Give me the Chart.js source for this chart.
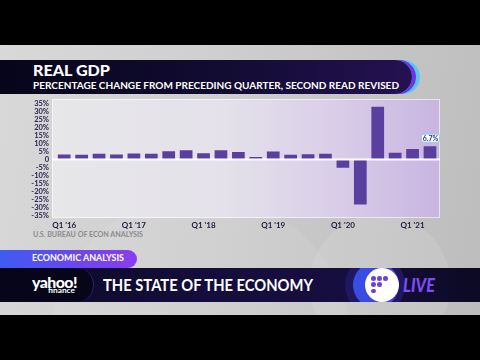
<!DOCTYPE html>
<html>
<head>
<meta charset="utf-8">
<script src="https://cdn.jsdelivr.net/npm/chart.js@4.4.1/dist/chart.umd.min.js"></script>
<style>
  html,body{margin:0;padding:0;background:#000;}
  #stage{position:relative;width:480px;height:360px;overflow:hidden;background:#000;font-family:"Lato","Open Sans",sans-serif;}
  .abs{position:absolute;white-space:nowrap;line-height:1;}
  #bg{left:0;top:45px;width:480px;height:270px;
      background:
        radial-gradient(circle at 380px 240px, rgba(255,255,255,0.10) 0 70px, rgba(255,255,255,0) 71px),
        radial-gradient(circle at 200px 300px, rgba(255,255,255,0.07) 0 150px, rgba(255,255,255,0) 151px),
        linear-gradient(100deg,#d8d8d8 0%,#cfcfcf 40%,#c4c4c4 75%,#bdbdbd 100%);}
  #titleBar{left:0;top:60px;width:412px;height:34px;border-radius:0 17px 17px 0;
      background:linear-gradient(90deg,#07051a 0%,#120c33 55%,#241152 100%);
      box-shadow:4px 0 0 #6b35e8, 8px 0 0 #56c8f2;}
  #canvasWrap{left:0;top:0;width:480px;height:360px;}
  .fit{transform-origin:0 0;}
  #pill{left:0;top:250px;width:137px;height:18px;border-radius:0 9px 9px 0;
      background:linear-gradient(90deg,#3d5cf2 0%,#6a47f0 55%,#8c3cf0 100%);}
  #banner{left:0;top:268px;width:480px;height:34px;overflow:hidden;
      background:linear-gradient(90deg,#0c0928 0%,#150d3c 45%,#170e40 70%,#0c0a24 100%);}
  #yseg{left:0;top:0;width:93px;height:34px;border-radius:0 17px 17px 0;background:#06051a;border-right:1px solid #2e2470;}
  .circ{position:absolute;border-radius:50%;}
  .dot{position:absolute;width:4.6px;height:4.6px;border-radius:50%;background:#6b42d8;}
</style>
</head>
<body>
<div id="stage">
  <div id="bg" class="abs"></div>
  <div id="titleBar" class="abs"></div>
  <div class="abs fit" data-w="77" style="left:33px;top:63px;font-size:15.3px;font-weight:900;color:#fff;">REAL GDP</div>
  <div class="abs fit" data-w="366" style="left:33px;top:80px;font-size:10.2px;font-weight:700;color:#fff;">PERCENTAGE CHANGE FROM PRECEDING QUARTER, SECOND READ REVISED</div>
  <div class="abs fit" data-w="110" style="left:33px;top:230.6px;font-size:7px;font-weight:700;color:#8b8b90;">U.S. BUREAU OF ECON ANALYSIS</div>

  <div id="pill" class="abs"></div>
  <div class="abs fit" data-w="92" style="left:32px;top:253.4px;font-size:9.7px;font-weight:700;color:#fff;">ECONOMIC ANALYSIS</div>

  <div id="banner" class="abs">
    <div id="yseg" class="abs"></div>
    <div class="circ" style="left:345px;top:-13px;width:60px;height:60px;background:#1f1860;"></div>
    <div class="circ" style="left:353px;top:-6px;width:46px;height:46px;background:linear-gradient(90deg,#3550e6,#4a3ad8);"></div>
    <div class="circ" style="left:365px;top:0px;width:34px;height:34px;background:#fff;"></div>
    <div class="dot" style="left:371px;top:8px;"></div>
    <div class="dot" style="left:377px;top:8px;"></div>
    <div class="dot" style="left:383px;top:8px;"></div>
    <div class="dot" style="left:371px;top:14px;"></div>
    <div class="dot" style="left:377px;top:14px;"></div>
    <div class="dot" style="left:371px;top:20.5px;"></div>
  </div>
  <div class="abs fit" data-w="45" style="left:31.5px;top:276px;font-size:14.5px;font-weight:900;color:#fff;letter-spacing:-0.5px;">yahoo!</div>
  <div class="abs fit" data-w="27" style="left:48px;top:287px;font-size:7.5px;font-weight:700;color:#fff;">finance</div>
  <div class="abs fit" data-w="210" style="left:103px;top:276px;font-size:17.5px;font-weight:700;color:#fff;">THE STATE OF THE ECONOMY</div>
  <div class="abs fit" data-w="32" style="left:403px;top:276px;font-size:18px;font-weight:900;font-style:italic;color:#7c4cf4;">LIVE</div>

  <div id="canvasWrap" class="abs"><canvas id="c" width="480" height="360"></canvas></div>
</div>
<script>
// ---- data ----
const quarters = ["Q1 '16","Q2 '16","Q3 '16","Q4 '16","Q1 '17","Q2 '17","Q3 '17","Q4 '17",
                  "Q1 '18","Q2 '18","Q3 '18","Q4 '18","Q1 '19","Q2 '19","Q3 '19","Q4 '19",
                  "Q1 '20","Q2 '20","Q3 '20","Q4 '20","Q1 '21","Q2 '21"];
const gdpChange = [3.1, 2.9, 3.5, 3.1, 3.7, 3.5, 5.1, 5.7, 3.9, 5.7, 4.6, 1.6,
                   5.0, 3.0, 3.3, 3.5, -5.2, -28.2, 33.0, 4.2, 6.6, 8.3];
const yTicks = [35, 30, 25, 20, 15, 10, 5, 0, -5, -10, -15, -20, -25, -30, -35];
const xTickEvery = 4;
const latestLabel = "6.7%";

// fit text widths
document.querySelectorAll('.fit').forEach(el => {
  const target = parseFloat(el.dataset.w);
  const w = el.getBoundingClientRect().width;
  if (w > 0) el.style.transform = 'scaleX(' + (target / w) + ')';
});

const panelPlugin = {
  id: 'panel',
  beforeDraw(chart) {
    const {ctx, chartArea: a} = chart;
    const L = a.left - 3.5, R = a.right + 1.3;
    const g = ctx.createLinearGradient(L, 0, R, 0);
    g.addColorStop(0, '#e7e7e9');
    g.addColorStop(0.45, '#e4e1ea');
    g.addColorStop(0.75, '#d8cce8');
    g.addColorStop(1, '#c8b5e0');
    ctx.save();
    ctx.fillStyle = g;
    ctx.fillRect(L, a.top, R - L, a.bottom - a.top);
    ctx.strokeStyle = 'rgba(255,255,255,0.6)';
    ctx.lineWidth = 1;
    ctx.strokeRect(L + 0.5, a.top + 0.5, R - L - 1, a.bottom - a.top - 1);
    ctx.restore();
  },
  afterDatasetsDraw(chart) {
    const {ctx, chartArea: a} = chart;
    const y0 = chart.scales.y.getPixelForValue(0);
    ctx.save();
    ctx.fillStyle = '#ffffff';
    ctx.fillRect(a.left - 3.5, y0 - 1, a.right - a.left + 4.8, 2);
    // latest value label
    const meta = chart.getDatasetMeta(0);
    const bar = meta.data[meta.data.length - 1];
    const bw = 18, bh = 8;
    const bx = bar.x - bw / 2 + 0.5, by = bar.y - 4 - bh;
    ctx.beginPath();
    ctx.roundRect(bx, by, bw, bh, 2);
    ctx.fillStyle = '#ffffff';
    ctx.fill();
    ctx.strokeStyle = '#7fd3f2';
    ctx.lineWidth = 1;
    ctx.stroke();
    ctx.fillStyle = '#3a2f7a';
    ctx.font = 'bold 7px Lato, sans-serif';
    ctx.textAlign = 'center';
    ctx.textBaseline = 'middle';
    ctx.fillText(latestLabel, bx + bw / 2, by + bh / 2 + 0.5);
    ctx.restore();
  }
};

new Chart(document.getElementById('c'), {
  type: 'bar',
  data: {
    labels: quarters,
    datasets: [{
      data: gdpChange,
      backgroundColor: '#5a3f9f',
      borderWidth: 0,
      barPercentage: 0.73,
      categoryPercentage: 1
    }]
  },
  options: {
    responsive: false,
    devicePixelRatio: 1,
    animation: false,
    layout: {padding: {left: 25.5, right: 41.3, top: 99, bottom: 130}},
    plugins: {legend: {display: false}, tooltip: {enabled: false}},
    scales: {
      x: {
        grid: {display: false, drawTicks: false},
        border: {display: false},
        afterFit: s => { s.height = 12; },
        ticks: {
          autoSkip: false, maxRotation: 0, minRotation: 0, padding: 3,
          color: '#1f1a3d',
          font: {family: 'Lato', size: 8, weight: 'bold'},
          callback: (v, i) => (i % xTickEvery === 0 ? quarters[i] : '')
        }
      },
      y: {
        min: -36.6, max: 37.8,
        afterFit: s => { s.width = 30; },
        afterBuildTicks: s => { s.ticks = yTicks.map(v => ({value: v})); },
        grid: {display: false, drawTicks: false},
        border: {display: false},
        ticks: {
          autoSkip: false,
          padding: 6.5,
          color: '#2a2452',
          font: {family: 'Lato', size: 7.5, weight: 'bold'},
          callback: v => (v === 0 ? '0' : v + '%')
        }
      }
    }
  },
  plugins: [panelPlugin]
});
</script>
</body>
</html>
